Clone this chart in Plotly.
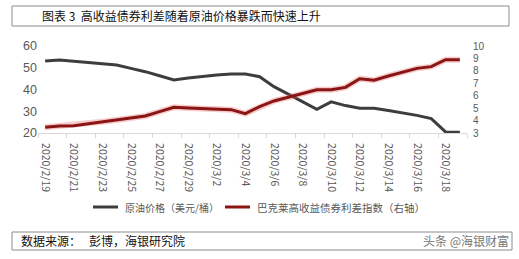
import plotly.graph_objects as go

dates = ["2020/2/19", "2020/2/20", "2020/2/21", "2020/2/22", "2020/2/23", "2020/2/24",
         "2020/2/25", "2020/2/26", "2020/2/27", "2020/2/28", "2020/2/29", "2020/3/1",
         "2020/3/2", "2020/3/3", "2020/3/4", "2020/3/5", "2020/3/6", "2020/3/7",
         "2020/3/8", "2020/3/9", "2020/3/10", "2020/3/11", "2020/3/12", "2020/3/13",
         "2020/3/14", "2020/3/15", "2020/3/16", "2020/3/17", "2020/3/18", "2020/3/19"]
oil = [53.1, 53.6, 53.0, 52.5, 51.9, 51.3, 49.7, 48.2, 46.3, 44.4, 45.3, 46.1, 46.7, 47.1, 47.1,
       45.9, 41.3, 37.9, 34.4, 30.9, 34.3, 32.6, 31.4, 31.4, 30.3, 29.2, 28.1, 26.6, 20.5, 20.3]
spread = [3.46, 3.56, 3.59, 3.75, 3.91, 4.05, 4.21, 4.37, 4.72, 5.07, 5.01, 4.96, 4.91, 4.88, 4.56,
          5.12, 5.58, 5.87, 6.19, 6.48, 6.48, 6.67, 7.37, 7.24, 7.59, 7.91, 8.20, 8.34, 8.90, 8.90]
name_oil = "原油价格（美元/桶）"
name_spread = "巴克莱高收益债券利差指数（右轴）"
title = "图表 3  高收益债券利差随着原油价格暴跌而快速上升"
source = "数据来源：   彭博，海银研究院"
watermark = "头条 @海银财富"

FONT = "Noto Sans CJK SC"
NUMFONT = "Liberation Sans"
OIL_COLOR = "#3d3d3d"
SPREAD_COLOR = "#8a1515"
idx = list(range(len(dates)))
label_idx = idx[::2]
label_txt = [dates[i] for i in label_idx]

fig = go.Figure()
fig.add_trace(go.Scatter(x=idx, y=oil, mode="lines", name=name_oil,
                         line=dict(color=OIL_COLOR, width=3), yaxis="y"))
fig.add_trace(go.Scatter(x=idx, y=spread, mode="lines", hoverinfo="skip",
                         line=dict(color="rgba(235,110,110,0.35)", width=6), yaxis="y2"))
fig.add_trace(go.Scatter(x=idx, y=spread, mode="lines", name=name_spread,
                         line=dict(color=SPREAD_COLOR, width=3), yaxis="y2"))

fig.update_layout(
    width=519, height=259,
    margin=dict(l=38, r=52, t=46, b=126),
    paper_bgcolor="white", plot_bgcolor="white",
    font=dict(family=FONT),
    showlegend=False,
    xaxis=dict(range=[-0.5, 29.5], tickmode="array", tickvals=label_idx, ticktext=label_txt,
               tickangle=90, tickfont=dict(family=FONT, size=10.5, color="#595959"),
               ticklabelstandoff=7,
               showgrid=False, zeroline=False, showline=True, linecolor="#d9d9d9", linewidth=1,
               ticks="",
               minor=dict(tickmode="array", tickvals=[i - 0.5 for i in label_idx] + [29.5],
                          ticks="outside", ticklen=4, tickcolor="#d9d9d9", showgrid=False)),
    yaxis=dict(range=[20, 60], tickvals=[20, 30, 40, 50, 60], showgrid=False, zeroline=False,
               showline=False, tickfont=dict(family=NUMFONT, size=12.5, color="#595959"), ticks=""),
    yaxis2=dict(range=[3, 10], tickvals=list(range(3, 11)), overlaying="y", side="right",
                showgrid=False, zeroline=False, showline=False, ticks="",
                ticklabelstandoff=5,
                tickfont=dict(family=NUMFONT, size=10, color="#595959")),
)

W = 429.0
H = 87.0
def px(x):
    return (x - 38) / W
def py(y):
    return (133 - y) / H

# title box
fig.add_shape(type="rect", xref="paper", yref="paper", x0=px(12), x1=px(509), y0=py(26), y1=py(6),
              line=dict(color="#8c8c8c", width=1), fillcolor="white", layer="below")
fig.add_annotation(xref="paper", yref="paper", x=px(40), y=py(16), text=title, showarrow=False,
                   xanchor="left", yanchor="middle", font=dict(family=FONT, size=12, color="#111111"))

# legend (manual)
for x0, x1, col, tx, name, fs in [(93, 118, OIL_COLOR, 123, name_oil, 10),
                                  (225, 250, SPREAD_COLOR, 255, name_spread, 10.5)]:
    fig.add_shape(type="line", xref="paper", yref="paper", x0=px(x0), x1=px(x1), y0=py(207), y1=py(207),
                  line=dict(color=col, width=3))
    fig.add_annotation(xref="paper", yref="paper", x=px(tx), y=py(207), text=name, showarrow=False,
                       xanchor="left", yanchor="middle", font=dict(family=FONT, size=fs, color="#595959"))

# footer box
fig.add_shape(type="rect", xref="paper", yref="paper", x0=px(12), x1=px(512), y0=py(250), y1=py(232),
              line=dict(color="#8c8c8c", width=1), fillcolor="white", layer="below")
fig.add_annotation(xref="paper", yref="paper", x=px(19), y=py(241), text=source, showarrow=False,
                   xanchor="left", yanchor="middle", font=dict(family=FONT, size=12, color="#111111"))
fig.add_annotation(xref="paper", yref="paper", x=px(511), y=py(241), text=watermark, showarrow=False,
                   xanchor="right", yanchor="middle", font=dict(family=FONT, size=12, color="#777777"))

fig.write_html("out.html")
